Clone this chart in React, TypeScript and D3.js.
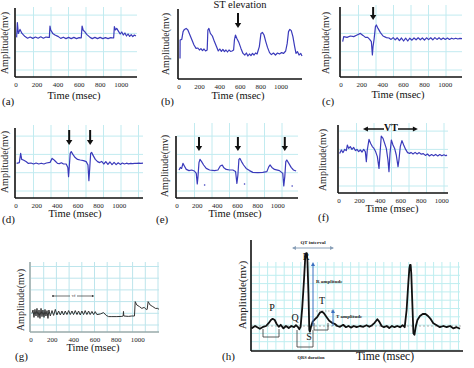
import React from 'react';
import * as d3 from 'd3';

type P = [number, number];

const TICKS = [0, 200, 400, 600, 800, 1000];
const Y_LABEL = 'Amplitude(mv)';
const X_LABEL = 'Time (msec)';

const sigA: P[] = [[6,-0.02],[13,0.72],[22,0.18],[38,0.38],[57,0.18],[86,0.02],[110,-0.06],[135,0],[160,-0.07],[185,0],[210,-0.06],[235,0.01],[260,-0.06],[285,0],[305,-0.02],[317,-0.02],[323,0.55],[330,0.35],[349,0.18],[371,0.1],[403,0.02],[425,-0.07],[450,-0.01],[475,-0.08],[500,-0.02],[525,-0.08],[550,-0.02],[575,-0.08],[600,-0.03],[620,-0.05],[628,0.55],[640,0.32],[653,0.27],[672,0.13],[704,-0.02],[725,-0.08],[750,-0.02],[775,-0.08],[800,-0.02],[825,-0.08],[850,-0.03],[875,-0.08],[900,-0.03],[928,-0.05],[935,0.52],[945,0.35],[957,0.43],[976,0.27],[990,0.15],[1005,0.25],[1020,0.1],[1035,0.2],[1050,0.05],[1065,0.15],[1080,0.03],[1095,0.12],[1110,0.02],[1125,0.1],[1140,0.05]];

const sigB: P[] = [[10,-0.97],[11,-0.05],[27,-0.02],[40,0.37],[53,0.48],[70,0.53],[87,0.45],[107,0.2],[127,-0.05],[147,-0.3],[167,-0.47],[185,-0.45],[200,-0.55],[215,-0.48],[230,-0.58],[245,-0.5],[260,-0.6],[276,-0.55],[283,0.45],[293,0.53],[307,0.28],[327,0.15],[347,-0.13],[367,-0.38],[385,-0.6],[400,-0.5],[415,-0.62],[430,-0.52],[445,-0.63],[460,-0.55],[475,-0.65],[490,-0.55],[505,-0.62],[520,-0.6],[535,-0.55],[543,-0.05],[553,0.2],[567,0.03],[587,-0.18],[607,-0.47],[627,-0.72],[645,-0.8],[660,-0.7],[675,-0.85],[690,-0.75],[705,-0.83],[720,-0.72],[735,-0.8],[750,-0.7],[765,-0.75],[787,-0.38],[803,0.28],[817,0.33],[833,0.2],[850,-0.13],[867,-0.42],[887,-0.68],[905,-0.78],[925,-0.7],[945,-0.8],[965,-0.7],[985,-0.75],[1005,-0.68],[1025,-0.72],[1045,-0.6],[1060,-0.22],[1073,0.37],[1086,0.48],[1100,0.42],[1116,0.12],[1133,-0.38],[1146,-0.72],[1160,-0.63],[1176,-0.8],[1193,-0.72],[1205,-0.85]];

const sigC: P[] = [[16,-0.23],[26,0.02],[58,-0.02],[90,0.05],[122,0.02],[154,0.1],[186,0.18],[211,0.08],[234,-0.02],[256,-0.02],[275,-0.12],[291,-0.23],[301,-0.9],[307,-0.48],[317,-0.12],[330,0.52],[339,0.6],[355,0.43],[378,0.22],[403,0.05],[435,-0.03],[460,-0.05],[480,-0.12],[500,-0.03],[520,-0.14],[540,-0.04],[560,-0.18],[580,-0.05],[600,-0.2],[620,-0.06],[640,-0.2],[660,-0.06],[680,-0.16],[700,-0.05],[720,-0.14],[740,-0.04],[760,-0.14],[780,-0.05],[800,-0.15],[820,-0.04],[840,-0.13],[860,-0.04],[880,-0.14],[900,-0.03],[920,-0.12],[940,-0.04],[960,-0.13],[980,-0.05],[1000,-0.12],[1020,-0.05],[1040,-0.12],[1060,-0.06],[1080,-0.1],[1100,-0.06],[1120,-0.1],[1140,-0.07],[1160,-0.08]];

const sigD: P[] = [[6,-0.27],[32,-0.23],[45,0.23],[55,-0.07],[71,-0.1],[97,-0.18],[120,-0.27],[145,-0.25],[170,-0.3],[195,-0.25],[220,-0.3],[245,-0.26],[270,-0.3],[295,-0.25],[330,-0.22],[350,-0.02],[363,-0.07],[379,-0.15],[402,-0.27],[420,-0.28],[440,-0.24],[460,-0.3],[486,-0.3],[502,-0.47],[509,-0.93],[515,-0.52],[525,0.23],[535,0.32],[551,0.18],[573,0.02],[596,-0.07],[622,-0.1],[654,-0.13],[680,-0.18],[697,-0.35],[706,-1.13],[713,-0.6],[723,0.23],[732,0.28],[748,0.12],[768,-0.07],[790,-0.18],[810,-0.23],[830,-0.17],[850,-0.3],[870,-0.18],[890,-0.32],[910,-0.2],[930,-0.33],[950,-0.22],[970,-0.33],[990,-0.24],[1010,-0.32],[1030,-0.25],[1050,-0.3],[1070,-0.26],[1090,-0.29],[1110,-0.27],[1130,-0.28],[1150,-0.27],[1170,-0.27],[1190,-0.26],[1210,-0.27],[1230,-0.26]];

const sigE: P[] = [[20,-0.6],[33,-0.47],[46,-0.52],[59,-0.27],[73,-0.4],[92,-0.57],[119,-0.63],[145,-0.6],[172,-0.65],[191,-0.77],[201,-1.3],[208,-0.93],[218,-0.23],[228,-0.07],[244,-0.18],[264,-0.35],[290,-0.52],[323,-0.6],[373,-0.63],[406,-0.6],[429,-0.4],[449,-0.35],[462,-0.47],[488,-0.57],[521,-0.6],[554,-0.6],[581,-0.68],[594,-1.27],[604,-0.85],[614,-0.07],[624,-0.02],[640,-0.18],[660,-0.35],[686,-0.52],[719,-0.63],[752,-0.72],[802,-0.73],[851,-0.72],[891,-0.68],[911,-0.43],[924,-0.35],[941,-0.47],[967,-0.57],[1016,-0.63],[1049,-0.77],[1059,-1.4],[1069,-0.93],[1079,-0.18],[1089,-0.1],[1109,-0.27],[1132,-0.47],[1155,-0.6],[1181,-0.65]];
const dotsE: P[] = [[274,-1.35],[670,-1.3],[1142,-1.4]];

const sigF: P[] = [[6,-0.02],[23,0.15],[39,0.02],[55,0.18],[71,0.12],[81,0.4],[94,0.23],[110,0.32],[126,0.18],[143,0.28],[159,0.12],[175,0.18],[191,0.07],[207,0.15],[224,0.05],[240,0.18],[256,0.07],[266,-0.43],[275,0.15],[292,0.68],[308,0.48],[324,0.32],[340,0.23],[356,0.07],[373,-0.18],[389,-0.77],[399,-0.02],[411,0.85],[428,0.73],[444,0.48],[460,0.23],[476,-0.35],[486,-0.93],[496,-0.02],[509,0.65],[525,0.4],[541,0.23],[557,-0.1],[574,-0.68],[583,-0.35],[596,0.32],[612,0.62],[629,0.4],[648,0.18],[667,0.02],[687,-0.02],[700,0.03],[720,-0.05],[740,0.03],[760,-0.05],[780,0.02],[800,-0.06],[820,-0.03],[840,-0.12],[860,-0.05],[880,-0.15],[900,-0.08],[920,-0.14],[940,-0.07],[960,-0.15],[980,-0.08],[1000,-0.14],[1020,-0.09],[1040,-0.14],[1050,-0.1]];

const sigG: P[] = [[9,-1.07],[19,-0.9],[28,-1.27],[37,-0.87],[47,-1.2],[56,-0.82],[66,-1.27],[75,-0.9],[84,-1.32],[94,-0.82],[103,-1.23],[112,-0.9],[122,-1.27],[131,-0.87],[140,-1.2],[150,-0.93],[159,-1.32],[168,-0.9],[181,-1.2],[197,-0.93],[212,-1.17],[228,-0.87],[243,-1.15],[259,-0.95],[275,-1.15],[290,-0.95],[306,-1.15],[321,-0.95],[337,-1.13],[353,-0.93],[368,-1.13],[384,-0.95],[399,-1.13],[415,-0.93],[431,-1.13],[446,-0.95],[462,-1.15],[477,-0.95],[493,-1.13],[508,-0.93],[524,-1.13],[540,-0.95],[555,-1.13],[571,-0.97],[587,-1.13],[602,-0.98],[618,-1.13],[649,-1.1],[680,-1.03],[705,-1.17],[727,-1.23],[758,-1.23],[805,-1.23],[852,-1.22],[864,-1.2],[867,-0.97],[870,-1.2],[914,-1.22],[945,-1.2],[970,-1.2],[977,-0.48],[992,-0.65],[1017,-0.73],[1039,-0.82],[1061,-0.77],[1080,-0.87],[1089,-0.87],[1098,-0.48],[1117,-0.65],[1142,-0.73],[1167,-0.82],[1189,-0.82],[1200,-0.87]];

const sigH: P[] = [[2,-0.06],[19,0],[42,-0.07],[58,-0.02],[71,0],[83,0.07],[94,0.15],[102,0.18],[112,0.15],[121,0.05],[131,-0.02],[140,0.03],[153,-0.06],[165,0],[178,-0.05],[190,0],[203,-0.03],[212,0.02],[222,-0.03],[228,-0.08],[234,-0.02],[242,0.48],[250,1.15],[256,1.73],[260,1.82],[263,1.82],[266,1.65],[271,0.82],[275,-0.1],[278,-0.14],[283,-0.02],[291,0.11],[302,0.17],[313,0.23],[325,0.33],[335,0.36],[344,0.32],[357,0.22],[369,0.13],[382,0.08],[396,0.05],[407,0],[420,-0.02],[435,0.03],[448,-0.03],[460,0],[473,-0.04],[485,0],[498,-0.03],[514,0],[530,-0.02],[545,0.02],[558,-0.02],[571,0.02],[583,0.08],[596,0.17],[605,0.11],[616,0],[627,-0.03],[640,0],[652,-0.05],[665,0],[677,-0.03],[690,0],[703,-0.03],[715,0.02],[725,-0.03],[734,0.4],[742,1.07],[747,1.44],[750,1.53],[753,1.53],[756,1.32],[761,0.57],[766,-0.18],[771,-0.22],[777,-0.02],[785,0.15],[797,0.25],[810,0.3],[823,0.3],[835,0.25],[848,0.17],[860,0.07],[876,0.02],[891,-0.03],[907,0],[923,-0.03],[939,0],[954,-0.06],[970,-0.03],[986,-0.07]];

const arrowsB = [578];
const arrowsC = [308];
const arrowsD = [515, 718];
const arrowsE = [218, 604, 1069];
const vtSpan = [233, 767];
const vfSpan = [206, 579];

const FONT = "'Liberation Serif', 'DejaVu Serif', 'Times New Roman', serif";
const BLUE = '#3a3abb';
const GRID = '#c2ebf0';

type Layout = {
  x0: number; x1: number; tEnd: number; top: number; bottom: number;
  lx: number; ly: number; tx: number; ty: number; tag: string; tagX: number; tagY: number;
  gridTop?: number; grid?: boolean; gx?: number; gy?: number; axisColor?: string; gridColor?: string;
};

const L: Record<string, Layout> = {
  a: { x0: 16, x1: 137, tEnd: 1150, top: 8, bottom: 77, lx: 6, ly: 43, tx: 74, ty: 97, tag: '(a)', tagX: 2, tagY: 102, gridTop: 7, grid: true },
  b: { x0: 179, x1: 302, tEnd: 1205, top: 9, bottom: 79, lx: 167, ly: 44, tx: 238, ty: 97, tag: '(b)', tagX: 161, tagY: 102, grid: false },
  c: { x0: 341, x1: 462, tEnd: 1160, top: 7, bottom: 77, lx: 327, ly: 43, tx: 398, ty: 96, tag: '(c)', tagX: 322, tagY: 102, gridTop: 5, grid: true },
  d: { x0: 16, x1: 143, tEnd: 1230, top: 128, bottom: 198, lx: 6, ly: 162, tx: 75, ty: 215, tag: '(d)', tagX: 2, tagY: 220, gridTop: 125, grid: true },
  e: { x0: 177, x1: 298, tEnd: 1200, top: 136, bottom: 198, lx: 166, ly: 166, tx: 235, ty: 215, tag: '(e)', tagX: 156, tagY: 220, gridTop: 123, grid: true },
  f: { x0: 339, x1: 448, tEnd: 1060, top: 125, bottom: 193, lx: 324, ly: 160, tx: 392, ty: 210, tag: '(f)', tagX: 318, tagY: 218, gridTop: 123, grid: true },
  g: { x0: 31, x1: 159, tEnd: 1200, top: 262, bottom: 332, lx: 22, ly: 300, tx: 93, ty: 349, tag: '(g)', tagX: 15, tagY: 357, gridTop: 262, grid: true, gx: 12.7, gy: 11.7, axisColor: '#9aa', gridColor: '#bde5ec' },
};

function scales(l: Layout) {
  const x = d3.scaleLinear().domain([0, l.tEnd]).range([l.x0, l.x1]);
  const y = d3.scaleLinear().domain([-2, (l.bottom - l.top - 40) / 20]).range([l.bottom, l.top]);
  return { x, y };
}

function Arrow({ x, y1, y2, color = '#111', w = 2 }: { x: number; y1: number; y2: number; color?: string; w?: number }) {
  return (
    <g>
      <line x1={x} y1={y1} x2={x} y2={y2 - 4} stroke={color} strokeWidth={w} />
      <path d={`M${x - 3.2},${y2 - 5} L${x + 3.2},${y2 - 5} L${x},${y2} Z`} fill={color} />
    </g>
  );
}

function Panel({ l, data, color = BLUE, width = 1.2, children }: { l: Layout; data: P[]; color?: string; width?: number; children?: React.ReactNode }) {
  const { x, y } = scales(l);
  const line = d3.line<P>().x(d => x(d[0])).y(d => y(d[1]));
  const gx = l.gx ?? 17.5;
  const gy = l.gy ?? 18.3;
  const gTop = l.gridTop ?? l.top;
  const vLines = l.grid ? d3.range(l.x0 + gx, l.x1 + 1, gx) : [];
  const hLines = l.grid ? d3.range(l.bottom - 7, gTop - 0.5, -gy) : [];
  const ax = l.axisColor ?? '#111';
  return (
    <g>
      {vLines.map((v, i) => <line key={'v' + i} x1={v} x2={v} y1={gTop} y2={l.bottom} stroke={l.gridColor ?? GRID} strokeWidth={1} />)}
      {hLines.map((v, i) => <line key={'h' + i} x1={l.x0} x2={l.x1} y1={v} y2={v} stroke={l.gridColor ?? GRID} strokeWidth={1} />)}
      <path d={line(data) ?? ''} fill="none" stroke={color} strokeWidth={width} strokeLinejoin="round" />
      <line x1={l.x0 - 1} x2={l.x0 - 1} y1={l.top} y2={l.bottom} stroke={ax} strokeWidth={1.6} />
      <line x1={l.x0 - 1} x2={l.x1} y1={l.bottom} y2={l.bottom} stroke={ax} strokeWidth={1.6} />
      {TICKS.map(t => (
        <text key={t} x={x(t)} y={l.bottom + 8} textAnchor="middle" dominantBaseline="middle" fontSize={7} fontFamily={FONT} fill="#222">{t}</text>
      ))}
      <text x={l.tx} y={l.ty} textAnchor="middle" dominantBaseline="middle" fontSize={10.5} fontFamily={FONT} fill="#111">{X_LABEL}</text>
      <text transform={`translate(${l.lx},${l.ly}) rotate(-90)`} textAnchor="middle" dominantBaseline="middle" fontSize={10} fontFamily={FONT} fill="#222">{Y_LABEL}</text>
      <text x={l.tagX} y={l.tagY} dominantBaseline="middle" fontSize={11} fontFamily={FONT} fill="#111">{l.tag}</text>
      {children}
    </g>
  );
}

function PanelH() {
  const x = d3.scaleLinear().domain([0, 1000]).range([251, 463]);
  const y = d3.scaleLinear().domain([-0.625, 2.15]).range([351, 240]);
  const line = d3.line<P>().x(d => x(d[0])).y(d => y(d[1]));
  const vLines = d3.range(251, 461, 8.3);
  const hLines = d3.range(350, 261, -8.3);
  const base = y(0);
  return (
    <g>
      {vLines.map((v, i) => <line key={'v' + i} x1={v} x2={v} y1={262} y2={350} stroke="#bfeef0" strokeWidth={1} />)}
      {hLines.map((v, i) => <line key={'h' + i} x1={251} x2={460} y1={v} y2={v} stroke="#bfeef0" strokeWidth={1} />)}
      <line x1={251} x2={463} y1={base} y2={base} stroke="#999" strokeWidth={0.8} strokeDasharray="2,2" />
      <path d={`M263,${base + 3} L263,${base + 11} L279,${base + 11} L279,${base + 3}`} fill="none" stroke="#333" strokeWidth={0.8} />
      <path d={`M297,${base + 4} L297,${base + 21} L313,${base + 21} L313,${base + 4}`} fill="none" stroke="#333" strokeWidth={0.8} />
      <path d={`M314,${base - 3} L314,${base + 4} L328,${base + 4} L328,${base - 3}`} fill="none" stroke="#333" strokeWidth={0.8} />
      <line x1={316} x2={333} y1={311} y2={311} stroke="#999" strokeWidth={0.8} strokeDasharray="1.5,1.5" />
      <path d={line(sigH) ?? ''} fill="none" stroke="#111" strokeWidth={1.8} strokeLinejoin="round" />
      <line x1={313} x2={313} y1={265} y2={base} stroke="#3a6fc0" strokeWidth={1} />
      <path d="M311,266 L315,266 L313,262 Z" fill="#3a6fc0" />
      <line x1={333} x2={333} y1={312} y2={base} stroke="#3a6fc0" strokeWidth={1} />
      <path d="M331,313 L335,313 L333,309 Z" fill="#3a6fc0" />
      <line x1={293} x2={333} y1={248} y2={248} stroke="#8aa0b8" strokeWidth={1} />
      <path d="M292,248 L296,246 L296,250 Z" fill="#8aa0b8" />
      <path d="M334,248 L330,246 L330,250 Z" fill="#8aa0b8" />
      <text x={313} y={243} textAnchor="middle" dominantBaseline="middle" fontSize={5} fontWeight="bold" fontFamily={FONT} fill="#222">QT interval</text>
      <text x={306} y={258} textAnchor="middle" dominantBaseline="middle" fontSize={10} fontFamily={FONT} fill="#111">R</text>
      <text x={316} y={282} dominantBaseline="middle" fontSize={5} fontWeight="bold" fontFamily={FONT} fill="#222">R amplitude</text>
      <text x={322} y={302} textAnchor="middle" dominantBaseline="middle" fontSize={10} fontFamily={FONT} fill="#111">T</text>
      <text x={336} y={317} dominantBaseline="middle" fontSize={5} fontWeight="bold" fontFamily={FONT} fill="#222">T amplitude</text>
      <text x={272} y={309} textAnchor="middle" dominantBaseline="middle" fontSize={10} fontFamily={FONT} fill="#111">P</text>
      <text x={295} y={319} textAnchor="middle" dominantBaseline="middle" fontSize={10} fontFamily={FONT} fill="#111">Q</text>
      <text x={309} y={338} textAnchor="middle" dominantBaseline="middle" fontSize={10} fontFamily={FONT} fill="#111">S</text>
      <text x={311} y={358} textAnchor="middle" dominantBaseline="middle" fontSize={4.5} fontWeight="bold" fontFamily={FONT} fill="#222">QRS duration</text>
      <line x1={251} x2={251} y1={240} y2={351} stroke="#111" strokeWidth={1.6} />
      <line x1={251} x2={463} y1={351} y2={351} stroke="#111" strokeWidth={1.6} />
      <text x={385} y={357} textAnchor="middle" dominantBaseline="middle" fontSize={11.5} fontFamily={FONT} fill="#111">{X_LABEL}</text>
      <text transform="translate(243,295) rotate(-90)" textAnchor="middle" dominantBaseline="middle" fontSize={11} fontFamily={FONT} fill="#222">{Y_LABEL}</text>
      <text x={222} y={357} dominantBaseline="middle" fontSize={11} fontFamily={FONT} fill="#111">(h)</text>
    </g>
  );
}

export default function App() {
  const sb = scales(L.b), sc = scales(L.c), sd = scales(L.d), se = scales(L.e), sf = scales(L.f), sg = scales(L.g);
  return (
    <svg width={474} height={368} style={{ position: 'absolute', left: 0, top: 0, background: '#fff' }}>
      <rect width={474} height={368} fill="#fff" />
      <Panel l={L.a} data={sigA} />
      <Panel l={L.b} data={sigB}>
        <text x={240} y={6} textAnchor="middle" dominantBaseline="middle" fontSize={10.5} fontFamily={FONT} fill="#111">ST elevation</text>
        {arrowsB.map(t => <Arrow key={t} x={sb.x(t)} y1={13} y2={28} />)}
      </Panel>
      <Panel l={L.c} data={sigC}>
        {arrowsC.map(t => <Arrow key={t} x={sc.x(t)} y1={7} y2={20} />)}
      </Panel>
      <Panel l={L.d} data={sigD}>
        {arrowsD.map(t => <Arrow key={t} x={sd.x(t)} y1={130} y2={145} />)}
      </Panel>
      <Panel l={L.e} data={sigE}>
        {arrowsE.map(t => <Arrow key={t} x={se.x(t)} y1={137} y2={151} />)}
        {dotsE.map((d, i) => <circle key={i} cx={se.x(d[0])} cy={se.y(d[1])} r={0.8} fill={BLUE} />)}
      </Panel>
      <Panel l={L.f} data={sigF}>
        <line x1={sf.x(vtSpan[0]) + 3} x2={384} y1={129} y2={129} stroke="#111" strokeWidth={1.5} />
        <path d={`M${sf.x(vtSpan[0])},129 L${sf.x(vtSpan[0]) + 5},126.5 L${sf.x(vtSpan[0]) + 5},131.5 Z`} fill="#111" />
        <line x1={398} x2={sf.x(vtSpan[1]) - 3} y1={129} y2={129} stroke="#111" strokeWidth={1.5} />
        <path d={`M${sf.x(vtSpan[1])},129 L${sf.x(vtSpan[1]) - 5},126.5 L${sf.x(vtSpan[1]) - 5},131.5 Z`} fill="#111" />
        <text x={391} y={129} textAnchor="middle" dominantBaseline="middle" fontSize={10} fontWeight="bold" fontFamily={FONT} fill="#111">VT</text>
      </Panel>
      <Panel l={L.g} data={sigG} color="#333" width={1}>
        <line x1={sg.x(vfSpan[0])} x2={sg.x(vfSpan[1])} y1={296} y2={296} stroke="#333" strokeWidth={0.7} />
        <circle cx={sg.x(vfSpan[0])} cy={296} r={0.9} fill="#333" />
        <circle cx={sg.x(vfSpan[1])} cy={296} r={0.9} fill="#333" />
        <rect x={70} y={294} width={7} height={4} fill="#fff" />
        <text x={73.5} y={296} textAnchor="middle" dominantBaseline="middle" fontSize={4.5} fontFamily={FONT} fill="#333">vf</text>
      </Panel>
      <PanelH />
    </svg>
  );
}
